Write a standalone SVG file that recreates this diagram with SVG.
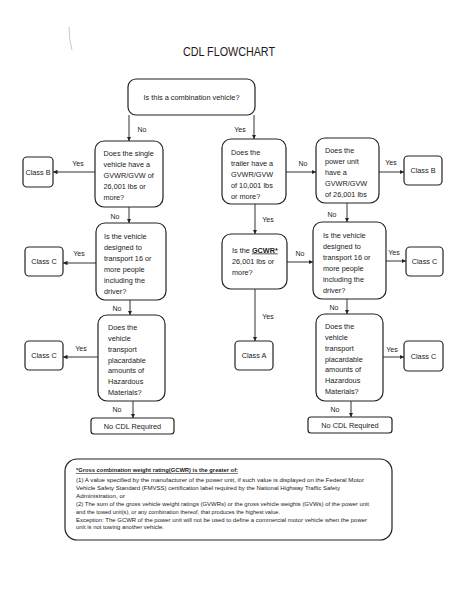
<svg xmlns="http://www.w3.org/2000/svg" width="474" height="615" viewBox="0 0 474 615">
<style>
.bx{fill:#fff;stroke:#222;stroke-width:1.2}
.t{font-family:"Liberation Sans",Arial,sans-serif;font-size:7.3px;fill:#1a1a1a}
.c{text-anchor:middle}
.lb{font-family:"Liberation Sans",Arial,sans-serif;font-size:7px;fill:#1a1a1a;text-anchor:middle}
.ln{stroke:#333;stroke-width:1;fill:none;marker-end:url(#ah)}
.fn{font-family:"Liberation Sans",Arial,sans-serif;font-size:5.6px;fill:#1a1a1a}
</style>
<defs>
<marker id="ah" viewBox="0 0 6 6" refX="6" refY="3" markerWidth="4.5" markerHeight="4.5" orient="auto" markerUnits="userSpaceOnUse">
<path d="M0,0 L6,3 L0,6 z" fill="#222"/>
</marker>
</defs>
<rect width="474" height="615" fill="#fff"/>
<path d="M69,27 Q69,40 72,50" stroke="#bbb" stroke-width="0.8" fill="none"/>
<text x="229" y="56" font-family="'Liberation Sans',Arial,sans-serif" font-size="12" fill="#1a1a1a" text-anchor="middle" textLength="92" lengthAdjust="spacingAndGlyphs">CDL FLOWCHART</text>

<g id="connectors">
<line class="ln" x1="129" y1="115" x2="129" y2="141"/>
<line class="ln" x1="254" y1="115" x2="254" y2="139"/>
<line class="ln" x1="95" y1="172" x2="53" y2="172"/>
<line class="ln" x1="129" y1="207" x2="129" y2="223"/>
<line class="ln" x1="286" y1="172" x2="316" y2="172"/>
<line class="ln" x1="379" y1="172" x2="404" y2="172"/>
<line class="ln" x1="347" y1="203" x2="347" y2="222"/>
<line class="ln" x1="255" y1="204" x2="255" y2="234"/>
<line class="ln" x1="96" y1="263" x2="63" y2="263"/>
<line class="ln" x1="287" y1="262" x2="313" y2="262"/>
<line class="ln" x1="386" y1="261" x2="406" y2="261"/>
<line class="ln" x1="130" y1="300" x2="130" y2="315"/>
<line class="ln" x1="347" y1="299" x2="347" y2="314"/>
<line class="ln" x1="255" y1="289" x2="255" y2="341"/>
<line class="ln" x1="98" y1="357" x2="63" y2="357"/>
<line class="ln" x1="383" y1="357" x2="404" y2="357"/>
<line class="ln" x1="133" y1="401" x2="133" y2="418"/>
<line class="ln" x1="351" y1="401" x2="351" y2="417"/>
<text class="lb" x="142" y="131.5">No</text>
<text class="lb" x="240" y="131.5">Yes</text>
<text class="lb" x="78" y="165.5">Yes</text>
<text class="lb" x="115" y="218.5">No</text>
<text class="lb" x="303" y="165.5">No</text>
<text class="lb" x="391" y="164.5">Yes</text>
<text class="lb" x="332" y="216.5">No</text>
<text class="lb" x="268" y="221.5">Yes</text>
<text class="lb" x="79" y="255.5">Yes</text>
<text class="lb" x="300" y="255.5">No</text>
<text class="lb" x="394" y="254.5">Yes</text>
<text class="lb" x="117" y="310.5">No</text>
<text class="lb" x="334" y="309.5">No</text>
<text class="lb" x="268" y="318.5">Yes</text>
<text class="lb" x="81" y="350.5">Yes</text>
<text class="lb" x="392" y="351.5">Yes</text>
<text class="lb" x="117" y="411.5">No</text>
<text class="lb" x="335" y="411.5">No</text>
</g>

<g id="n_top">
<rect class="bx" x="128" y="79" width="127" height="36" rx="8"/>
<text class="t c" x="191.5" y="99.5" textLength="96" lengthAdjust="spacingAndGlyphs">Is this a combination vehicle?</text>
</g>

<g id="n_single">
<rect class="bx" x="95" y="141" width="68" height="66" rx="9"/>
<text class="t" x="103.5" y="155.5">Does the single</text>
<text class="t" x="103.5" y="166.5">vehicle have a</text>
<text class="t" x="103.5" y="177.5">GVWR/GVW of</text>
<text class="t" x="103.5" y="188.5">26,001 lbs or</text>
<text class="t" x="103.5" y="199.5">more?</text>
</g>

<g id="n_classB_L">
<rect class="bx" x="23" y="157" width="30" height="30" rx="4"/>
<text class="t c" x="38" y="175">Class B</text>
</g>

<g id="n_trailer">
<rect class="bx" x="222" y="139" width="64" height="65" rx="9"/>
<text class="t" x="231" y="154.5">Does the</text>
<text class="t" x="231" y="165.5">trailer have a</text>
<text class="t" x="231" y="176.5">GVWR/GVW</text>
<text class="t" x="231" y="187.5">of 10,001 lbs</text>
<text class="t" x="231" y="198.5">or more?</text>
</g>

<g id="n_power">
<rect class="bx" x="316" y="138" width="63" height="65" rx="9"/>
<text class="t" x="325" y="152.5">Does the</text>
<text class="t" x="325" y="163.5">power unit</text>
<text class="t" x="325" y="174.5">have a</text>
<text class="t" x="325" y="185.5">GVWR/GVW</text>
<text class="t" x="325" y="196.5">of 26,001 lbs</text>
</g>

<g id="n_classB_R">
<rect class="bx" x="404" y="156" width="38" height="29" rx="4"/>
<text class="t c" x="423" y="173">Class B</text>
</g>

<g id="n_design_L">
<rect class="bx" x="96" y="223" width="70" height="77" rx="9"/>
<text class="t" x="104" y="238.5">Is the vehicle</text>
<text class="t" x="104" y="249.5">designed to</text>
<text class="t" x="104" y="260.5">transport 16 or</text>
<text class="t" x="104" y="271.5">more people</text>
<text class="t" x="104" y="282.5">including the</text>
<text class="t" x="104" y="293.5">driver?</text>
</g>

<g id="n_classC_L1">
<rect class="bx" x="25" y="247" width="38" height="29" rx="4"/>
<text class="t c" x="44" y="264">Class C</text>
</g>

<g id="n_gcwr">
<rect class="bx" x="222" y="234" width="65" height="55" rx="9"/>
<text class="t" x="232" y="252.5">Is the <tspan font-weight="bold" text-decoration="underline">GCWR*</tspan></text>
<text class="t" x="232" y="263.5">26,001 lbs or</text>
<text class="t" x="232" y="274.5">more?</text>
</g>

<g id="n_design_R">
<rect class="bx" x="313" y="222" width="73" height="77" rx="9"/>
<text class="t" x="323" y="237.5">Is the vehicle</text>
<text class="t" x="323" y="248.5">designed to</text>
<text class="t" x="323" y="259.5">transport 16 or</text>
<text class="t" x="323" y="270.5">more people</text>
<text class="t" x="323" y="281.5">including the</text>
<text class="t" x="323" y="292.5">driver?</text>
</g>

<g id="n_classC_R1">
<rect class="bx" x="406" y="247" width="37" height="29" rx="4"/>
<text class="t c" x="424.5" y="264">Class C</text>
</g>

<g id="n_classA">
<rect class="bx" x="235" y="341" width="38" height="29" rx="4"/>
<text class="t c" x="254" y="358">Class A</text>
</g>

<g id="n_haz_L">
<rect class="bx" x="98" y="315" width="67" height="86" rx="9"/>
<text class="t" x="108" y="329.5">Does the</text>
<text class="t" x="108" y="340.5">vehicle</text>
<text class="t" x="108" y="351.5">transport</text>
<text class="t" x="108" y="362.5">placardable</text>
<text class="t" x="108" y="373">amounts of</text>
<text class="t" x="108" y="384">Hazardous</text>
<text class="t" x="108" y="394.5">Materials?</text>
</g>

<g id="n_classC_L2">
<rect class="bx" x="25" y="341" width="38" height="29" rx="4"/>
<text class="t c" x="44" y="358">Class C</text>
</g>

<g id="n_haz_R">
<rect class="bx" x="316" y="314" width="67" height="87" rx="9"/>
<text class="t" x="325" y="328.5">Does the</text>
<text class="t" x="325" y="339.5">vehicle</text>
<text class="t" x="325" y="350.5">transport</text>
<text class="t" x="325" y="361.5">placardable</text>
<text class="t" x="325" y="372">amounts of</text>
<text class="t" x="325" y="383">Hazardous</text>
<text class="t" x="325" y="393.5">Materials?</text>
</g>

<g id="n_classC_R2">
<rect class="bx" x="404" y="341" width="39" height="30" rx="4"/>
<text class="t c" x="423.5" y="358.5">Class C</text>
</g>

<g id="n_nocdl_L">
<rect class="bx" x="91" y="418" width="83" height="16" rx="3"/>
<text class="t c" x="132.5" y="428.5">No CDL Required</text>
</g>

<g id="n_nocdl_R">
<rect class="bx" x="308" y="417" width="84" height="16" rx="3"/>
<text class="t c" x="350" y="427.5">No CDL Required</text>
</g>

<g id="n_footnote">
<rect class="bx" x="65" y="459" width="327" height="81" rx="12"/>
<text class="fn" x="76" y="472" font-weight="bold" text-decoration="underline" textLength="162" lengthAdjust="spacingAndGlyphs">*Gross combination weight rating(GCWR) is the greater of:</text>
<text class="fn" x="76" y="482" textLength="288" lengthAdjust="spacingAndGlyphs">(1) A value specified by the manufacturer of the power unit, if such value is displayed on the Federal Motor</text>
<text class="fn" x="76" y="490" textLength="264" lengthAdjust="spacingAndGlyphs">Vehicle Safety Standard (FMVSS) certification label required by the National Highway Traffic Safety</text>
<text class="fn" x="76" y="498" textLength="49" lengthAdjust="spacingAndGlyphs">Administration, or</text>
<text class="fn" x="76" y="506" textLength="293" lengthAdjust="spacingAndGlyphs">(2) The sum of the gross vehicle weight ratings (GVWRs) or the gross vehicle weights (GVWs) of the power unit</text>
<text class="fn" x="76" y="514" textLength="204" lengthAdjust="spacingAndGlyphs">and the towed unit(s), or any combination thereof, that produces the highest value.</text>
<text class="fn" x="76" y="521.5" textLength="291" lengthAdjust="spacingAndGlyphs">Exception: The GCWR of the power unit will not be used to define a commercial motor vehicle when the power</text>
<text class="fn" x="76" y="529" textLength="88" lengthAdjust="spacingAndGlyphs">unit is not towing another vehicle.</text>
</g>
</svg>
